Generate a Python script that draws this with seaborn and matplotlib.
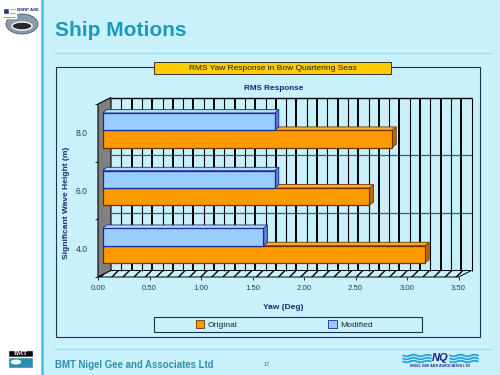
import numpy as np
import pandas as pd
import matplotlib
matplotlib.use('Agg')
import matplotlib.pyplot as plt
import matplotlib.patches as mpatches
import matplotlib.transforms as mtransforms
from matplotlib.lines import Line2D
import seaborn as sns

# values (RMS yaw in degrees)
wave_heights = ['8.0', '6.0', '4.0']
yaw_original = [2.81, 2.59, 3.13]
yaw_modified = [1.67, 1.67, 1.56]
series_names = ['Original', 'Modified']
x_ticks = [0.0, 0.5, 1.0, 1.5, 2.0, 2.5, 3.0, 3.5]

df = pd.DataFrame({
    'height': wave_heights * 2,
    'yaw': yaw_original + yaw_modified,
    'series': ['Original'] * len(wave_heights) + ['Modified'] * len(wave_heights),
})

BG = '#c9f1fc'
NAVY = '#1c2a6e'
TEAL = '#1b9ab8'
bar_cols = {
    'Original': dict(face='#ff9900', edge='#6b3500', side='#c26a00', top='#ffad33'),
    'Modified': dict(face='#99ccff', edge='#1a2a9a', side='#5f7fd0', top='#b5dcff'),
}

sns.set_theme(style='white')
plt.rcParams['font.family'] = ['Liberation Sans', 'DejaVu Sans']

W, H = 500, 375
fig = plt.figure(figsize=(5, 3.75), dpi=100, facecolor=BG)


def fx(x):
    return x / W


def fy(y):
    return 1 - y / H


# slide furniture
fig.patches.append(mpatches.Rectangle((0, 0), fx(41), 1, transform=fig.transFigure,
                                      facecolor='white', edgecolor='none', zorder=0))
fig.lines.append(Line2D([fx(42), fx(42)], [0, 1], transform=fig.transFigure,
                        color='#55bde0', lw=1.8))
fig.lines.append(Line2D([fx(55), fx(492)], [fy(53), fy(53)], transform=fig.transFigure,
                        color='#9fdff2', lw=1))
fig.lines.append(Line2D([fx(55), fx(492)], [fy(349), fy(349)], transform=fig.transFigure,
                        color='#9fdff2', lw=1))
fig.text(fx(55), fy(35.7), 'Ship Motions', fontsize=15, fontweight='bold', color=TEAL,
         va='baseline')

# chart frame and gold title box
fig.patches.append(mpatches.Rectangle((fx(55.7), fy(336.7)), fx(480 - 55.7), (336.7 - 66.7) / H,
                                      transform=fig.transFigure, fill=False,
                                      edgecolor='#1f2d5a', lw=0.8))
fig.patches.append(mpatches.Rectangle((fx(154), fy(74)), fx(391 - 154), 12 / H,
                                      transform=fig.transFigure, facecolor='#ffcc00',
                                      edgecolor='#333333', lw=0.7))
fig.text(fx(272.5), fy(68), 'RMS Yaw Response in Bow Quartering Seas', fontsize=6,
         color='#1a1a1a', ha='center', va='center')
fig.text(fx(273.3), fy(89), 'RMS Response', fontsize=5.9, fontweight='bold',
         color='#1a237e', ha='center', va='center')

# plot area: front plane x=0 at px 98, 103 px/unit; v=-0.5 at px 104, v=2.5 at px 277
X0, SX = 98, 103
SV = (277 - 104) / 3.0
XMAX = 3.63
VTOP = -0.5 - 6.5 / SV
ax = fig.add_axes([fx(X0), fy(277), XMAX * SX / W, (277 - 97.5) / H])
ax.set_facecolor('none')

sns.barplot(data=df, x='yaw', y='height', hue='series', order=wave_heights,
            hue_order=['Modified', 'Original'],
            palette={k: v['face'] for k, v in bar_cols.items()},
            orient='h', width=0.6, errorbar=None, legend=False, saturation=1, ax=ax)

ax.set_xlim(0, XMAX)
ax.set_ylim(2.5, VTOP)
ax.set_xlabel('')
ax.set_ylabel('')
for s in ax.spines.values():
    s.set_visible(False)

# 3D box: back wall offset, left wall, hatched floor
BDX = 13 / SX
BDY = 6.5 / SV
ax.add_patch(mpatches.Polygon([(0, -0.5), (BDX, -0.5 - BDY), (BDX, 2.5 - BDY), (0, 2.5)],
                              facecolor='#808080', edgecolor='black', lw=0.8,
                              zorder=0.3, clip_on=False))
ax.add_patch(mpatches.Polygon([(0, 2.5), (BDX, 2.5 - BDY), (x_ticks[-1] + BDX, 2.5 - BDY),
                               (x_ticks[-1], 2.5)],
                              facecolor=BG, edgecolor='black', hatch='///', lw=0.7,
                              zorder=0.3, clip_on=False))
grid_x = np.arange(0.1, x_ticks[-1] + 0.01, 0.1) + BDX
ax.vlines(grid_x, -0.5 - BDY, 2.5 - BDY, colors='black',
          linewidths=[1.4 if i % 2 else 0.8 for i in range(len(grid_x))], zorder=0.4,
          clip_on=False)
ax.hlines([-0.5 - BDY, 0.5 - BDY, 1.5 - BDY], BDX, x_ticks[-1] + BDX,
          colors=['black', '#3d5a6a', '#3d5a6a'], linewidths=[1.0, 0.9, 0.9], zorder=0.35,
          clip_on=False)

# bars sit a little inside the box; give them a top and side face
off = mtransforms.ScaledTranslation(4.5 / 100, 2.5 / 100, fig.dpi_scale_trans)
tr = ax.transData + off
DX, DY = 4.3 / SX, 3.4 / SV
for z, (name, cont) in zip([1.4, 1.2], zip(['Modified', 'Original'], ax.containers)):
    c = bar_cols[name]
    for bar in cont:
        x0, w = bar.get_x(), bar.get_width()
        yt, yb = bar.get_y(), bar.get_y() + bar.get_height()
        x1 = x0 + w
        bar.set_transform(tr)
        bar.set_edgecolor(c['edge'])
        bar.set_linewidth(0.9)
        bar.set_zorder(z + 0.1)
        ax.add_patch(mpatches.Polygon([(x1, yt), (x1, yb), (x1 + DX, yb - DY), (x1 + DX, yt - DY)],
                                      facecolor=c['side'], edgecolor=c['edge'], lw=0.6,
                                      transform=tr, zorder=z, clip_on=False))
        ax.add_patch(mpatches.Polygon([(x0, yt), (x1, yt), (x1 + DX, yt - DY), (x0 + DX, yt - DY)],
                                      facecolor=c['top'], edgecolor=c['edge'], lw=0.6,
                                      transform=tr, zorder=z, clip_on=False))

# ticks
ax.set_xticks(x_ticks)
ax.set_xticklabels([f'{t:.2f}' for t in x_ticks])
ax.set_yticks(range(len(wave_heights)))
ax.set_yticklabels(wave_heights)
ax.set_yticks([-0.5, 0.5, 1.5, 2.5], minor=True)
ax.tick_params(axis='x', bottom=True, length=2.5, width=0.7, color='#222222', pad=3.5,
               labelsize=5.6, labelcolor='#2b3a55')
ax.tick_params(axis='y', which='major', left=True, length=0, pad=7.2, labelsize=6.2,
               labelcolor='#2b3a55')
ax.tick_params(axis='y', which='minor', left=True, length=2.4, width=0.7, color='#222222')

fig.text(fx(283), fy(307.3), 'Yaw (Deg)', fontsize=6, fontweight='bold', color=NAVY,
         ha='center', va='center')
fig.text(fx(66), fy(203), 'Significant Wave Height (m)', fontsize=6, fontweight='bold',
         color=NAVY, rotation=90, ha='center', va='center')

# legend in its own box
fig.patches.append(mpatches.Rectangle((fx(154), fy(332.3)), fx(422 - 154), 15.6 / H,
                                      transform=fig.transFigure, fill=False,
                                      edgecolor='#1f2d5a', lw=0.8))
handles = [mpatches.Patch(facecolor=bar_cols[n]['face'], edgecolor=bar_cols[n]['edge'],
                          lw=0.6, label=n) for n in series_names]
fig.legend(handles=handles, loc='center left', bbox_to_anchor=(fx(195.7), fy(324.7)),
           ncol=2, frameon=False, fontsize=6.1, handlelength=1.0, handleheight=1.1,
           handletextpad=0.35, columnspacing=10.8, borderpad=0, borderaxespad=0,
           labelcolor='#222222')

# footer
fig.text(fx(55), fy(365), 'BMT Nigel Gee and Associates Ltd', fontsize=6.9,
         fontweight='bold', color='#2e8fb0', va='center')
fig.text(fx(267), fy(364.5), '17', fontsize=4, color='#555555', ha='center', va='center')

# BMT logo
fig.patches.append(mpatches.Rectangle((fx(8), fy(357)), fx(25), 7.5 / H,
                                      transform=fig.transFigure, facecolor='black'))
fig.patches.append(mpatches.Rectangle((fx(8), fy(368)), fx(25), 11 / H,
                                      transform=fig.transFigure, facecolor='#2a8fb0'))
fig.patches.append(mpatches.Ellipse((fx(16), fy(362)), fx(9), 3.5 / H,
                                    transform=fig.transFigure, facecolor='white'))
fig.text(fx(20.5), fy(353.5), 'BMT', fontsize=4.5, color='white', ha='center', va='center',
         family='Liberation Serif', fontweight='bold')

# NSRP ASE logo
fig.patches.append(mpatches.Ellipse((fx(22), fy(24)), fx(32), 20 / H,
                                    transform=fig.transFigure, facecolor='#8a9aa8',
                                    edgecolor='#3a4a5a', lw=0.5))
fig.patches.append(mpatches.Ellipse((fx(22), fy(26)), fx(20), 8 / H,
                                    transform=fig.transFigure, facecolor='#2a2a2a'))
for i, col in enumerate(['#d22', 'white', '#d22', 'white', '#d22']):
    fig.patches.append(mpatches.Rectangle((fx(3), fy(8 + 2 * (i + 1))), fx(13), 2 / H,
                                          transform=fig.transFigure, facecolor=col))
fig.patches.append(mpatches.Rectangle((fx(3), fy(14)), fx(6), 6 / H,
                                      transform=fig.transFigure, facecolor='#22338a'))
fig.text(fx(28), fy(10), 'NSRP ASE', fontsize=3.2, fontweight='bold', color='#1a237e',
         ha='center', va='center')

# NQ logo
t = np.linspace(0, 1, 40)
for yy in [355.5, 358.5, 361.5]:
    for xa, xb in [(403, 431), (450, 478)]:
        fig.lines.append(Line2D(fx(xa + (xb - xa) * t), fy(yy + 0.8 * np.sin(t * 4 * np.pi)),
                                transform=fig.transFigure, color='#29a3d6', lw=1.3))
fig.text(fx(440.5), fy(358), 'NQ', fontsize=8, fontweight='bold', style='italic',
         color='#1a237e', ha='center', va='center')
fig.text(fx(440.5), fy(366), 'NIGEL GEE AND ASSOCIATES LTD', fontsize=2.6, fontweight='bold',
         color='#1a237e', ha='center', va='center')

fig.savefig('out.png', dpi=100, facecolor=BG)
